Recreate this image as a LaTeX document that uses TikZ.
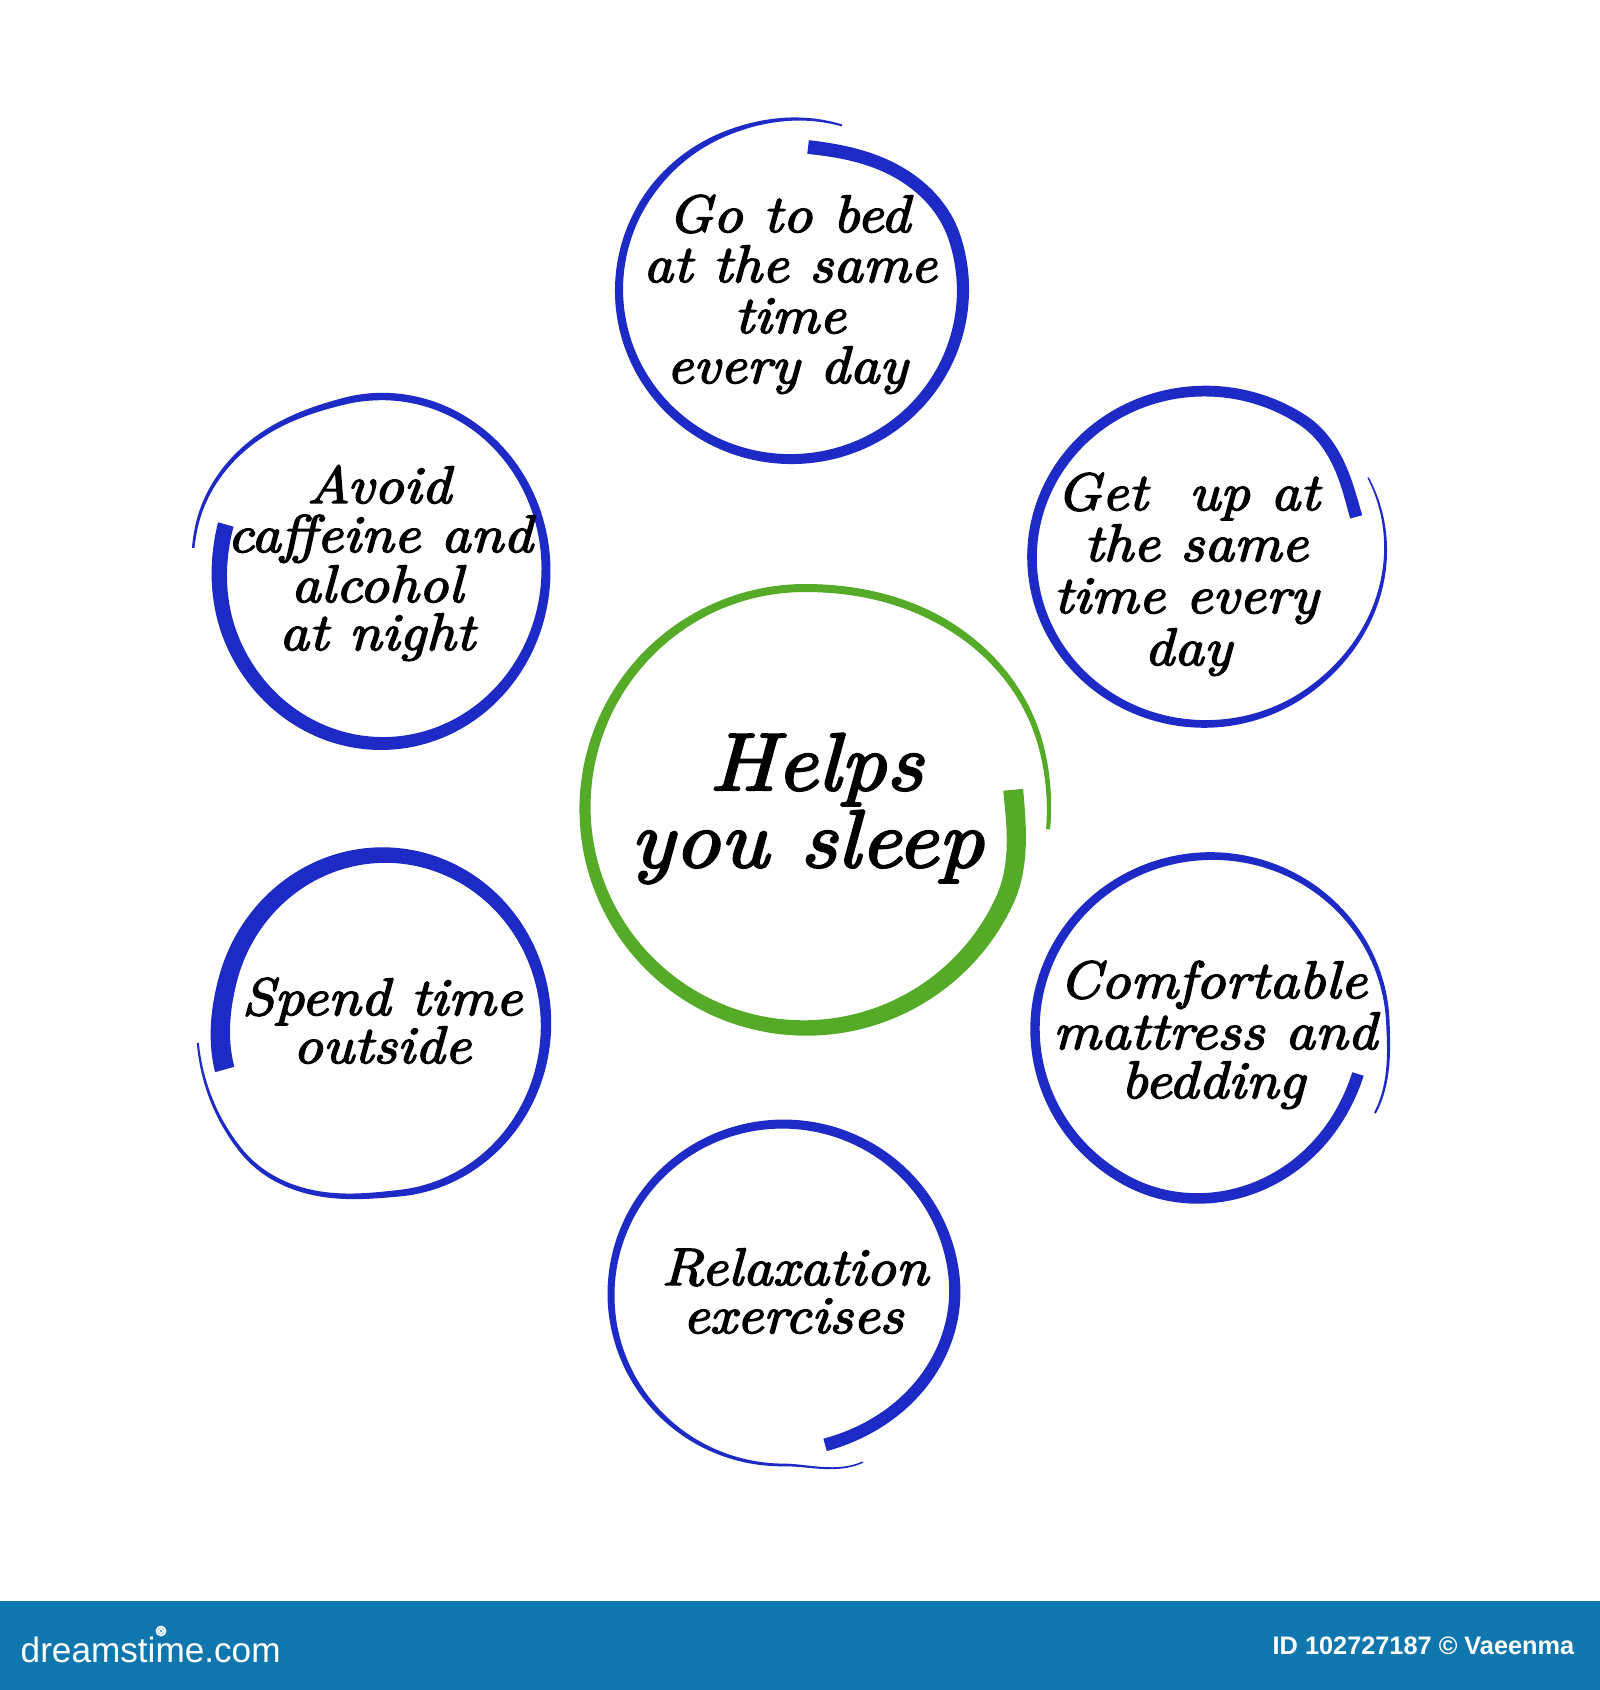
\documentclass[tikz,border=0pt]{standalone}
\usepackage{fontspec}
\newfontfamily\hand{lmroman10-italic.otf}[FakeBold=2.8,FakeStretch=1.1]
\newfontfamily\barfont{Liberation Sans}
\definecolor{ringblue}{RGB}{30,42,198}
\definecolor{ringgreen}{RGB}{85,170,40}
\definecolor{barblue}{RGB}{16,119,174}
\pgfkeys{/ring/.is family,/ring,
  cx/.store in=\rcx, cy/.store in=\rcy, R/.store in=\rR, k/.store in=\rk,
  t0/.store in=\rt, dir/.store in=\rdir, span/.store in=\rspan,
  r0/.store in=\rrz, D0/.store in=\rDz, r1/.store in=\rro, D1/.store in=\rDo, E1/.store in=\rEo,
  w0/.store in=\rwz, wm/.store in=\rwm, Dw/.store in=\rDw, w1/.store in=\rwo, Tw/.store in=\rTw,
  col/.store in=\rcol}
% smooth ramps for the radius, piecewise-linear brush width
\def\sA{min(1,max(0,\q/\rDz))}
\def\sB{min(1,max(0,(\q-\rspan+\rDo)/(\rDo-\rEo)))}
\def\ringR{(\rR+(\rrz-\rR)*(1-\sA*\sA*(3-2*\sA))+(\rro-\rR)*\sB*\sB*(3-2*\sB))}
\def\ringW{(\rwz+(\rwm-\rwz)*min(1,\q/\rDw)+(\rwo-\rwm)*max(0,(\q-\rspan+\rTw)/\rTw))}
\def\ringA{(\rt+(\rdir)*\q)}
\newcommand\brushring[1]{%
  \pgfkeys{/ring,k=1,E1=0,#1}%
  \fill[\rcol] plot[variable=\q,domain=0:\rspan,samples=240]
     ({\rcx+(\ringR+\ringW/2)*cos(\ringA)},{\rcy+\rk*(\ringR+\ringW/2)*sin(\ringA)})
   -- plot[variable=\q,domain=\rspan:0,samples=240]
     ({\rcx+(\ringR-\ringW/2)*cos(\ringA)},{\rcy+\rk*(\ringR-\ringW/2)*sin(\ringA)})
   -- cycle;}
\tikzset{
  lbl/.style={font={\fontsize{15}{17}\hand}, anchor=base, inner sep=0pt, text=black},
  biglbl/.style={font={\fontsize{23.2}{26}\hand}, anchor=base, inner sep=0pt, text=black},
  barlbl/.style={inner sep=0pt, text=white}
}
\begin{document}
\begin{tikzpicture}[x=0.01cm,y=-0.01cm]
\useasboundingbox (0,0) rectangle (1600,1690);
\fill[white] (0,0) rectangle (1600,1690);

% rings
% top: Go to bed
\brushring{cx=791,cy=290,R=172,k=0.983,t0=-83.3,dir=1,span=370.2,r0=146.5,D0=65,r1=175,D1=40,
  w0=14,wm=7.5,Dw=290,w1=2,Tw=70,col=ringblue}
% right upper: Get up
\brushring{cx=1205,cy=557.5,R=173,k=0.962,t0=-15.6,dir=-1,span=371.4,r0=157,D0=40,r1=183,D1=80,
  w0=12.5,wm=8,Dw=255,w1=1.5,Tw=116,col=ringblue}
% centre: Helps you sleep
\brushring{cx=805,cy=808,R=220,t0=-5,dir=1,span=370,r0=209,D0=30,r1=244,D1=95,E1=20,
  w0=20,wm=8,Dw=250,w1=4,Tw=60,col=ringgreen}
% left upper: Avoid caffeine
\brushring{cx=382,cy=570,R=164,k=1.058,t0=195.4,dir=-1,span=369.1,r0=162,D0=40,r1=190,D1=70,E1=5,
  w0=16,wm=7,Dw=250,w1=2.5,Tw=80,col=ringblue}
% left lower: Spend time outside
\brushring{cx=384,cy=1024.5,R=162,k=1.046,t0=164.9,dir=1,span=369.7,r0=165,D0=30,r1=187,D1=90,E1=35,
  w0=20,wm=6,Dw=285,w1=2,Tw=85,col=ringblue}
% right lower: Comfortable mattress
\brushring{cx=1211.5,cy=1029,R=176.5,k=0.98,t0=17.4,dir=1,span=370.3,r0=153.5,D0=100,r1=184.6,D1=30,
  w0=12,wm=8,Dw=250,w1=2,Tw=120,col=ringblue}
% bottom: Relaxation exercises
\brushring{cx=783,cy=1294.5,R=172,k=0.991,t0=74.5,dir=-1,span=369.8,r0=157.5,D0=80,r1=187,D1=25,
  w0=13,wm=7,Dw=254,w1=1.5,Tw=115,col=ringblue}

% texts
\node[lbl] (T1) at (789,232) {Go to bed};
\node[lbl] (T2) at (790,282) {at the same};
\node[lbl] (T3) at (790,333) {time};
\node[lbl] (T4) at (787,383) {every day};

\node[lbl] (R11) at (1188,510) {Get\ \ up at};
\node[lbl] (R12) at (1196,561) {the same};
\node[lbl] (R13) at (1186,613) {time every};
\node[lbl] (R14) at (1188,665) {day};

\node[biglbl] (C1) at (816,790) {Helps};
\node[biglbl] (C2) at (807,867) {you sleep};

\node[lbl] (L11) at (379,503) {Avoid};
\node[lbl] (L12) at (380,552) {caffeine and};
\node[lbl] (L13) at (377,602) {alcohol};
\node[lbl] (L14) at (377,650) {at night};

\node[lbl] (L21) at (382,1015) {Spend time};
\node[lbl] (L22) at (382,1063) {outside};

\node[lbl] (R21) at (1213,998) {Comfortable};
\node[lbl] (R22) at (1215,1049) {mattress and};
\node[lbl] (R23) at (1213,1098) {bedding};

\node[lbl] (B1) at (795,1285) {Relaxation};
\node[lbl] (B2) at (793,1333) {exercises};

% bottom bar
\fill[barblue] (0,1601) rectangle (1600,1690);
\node[barlbl, anchor=base west, font={\fontsize{10}{12}\barfont}] (logo) at (20,1662) {dreamstime.com};
\draw[white, line width=0.5pt] (161,1631) circle (4.5) (161,1631) circle (2);
\node[barlbl, anchor=base east, font={\fontsize{7.2}{9}\barfont\bfseries}] (imgid) at (1575,1654) {ID 102727187 \textcopyright{} Vaeenma};
\end{tikzpicture}
\end{document}
